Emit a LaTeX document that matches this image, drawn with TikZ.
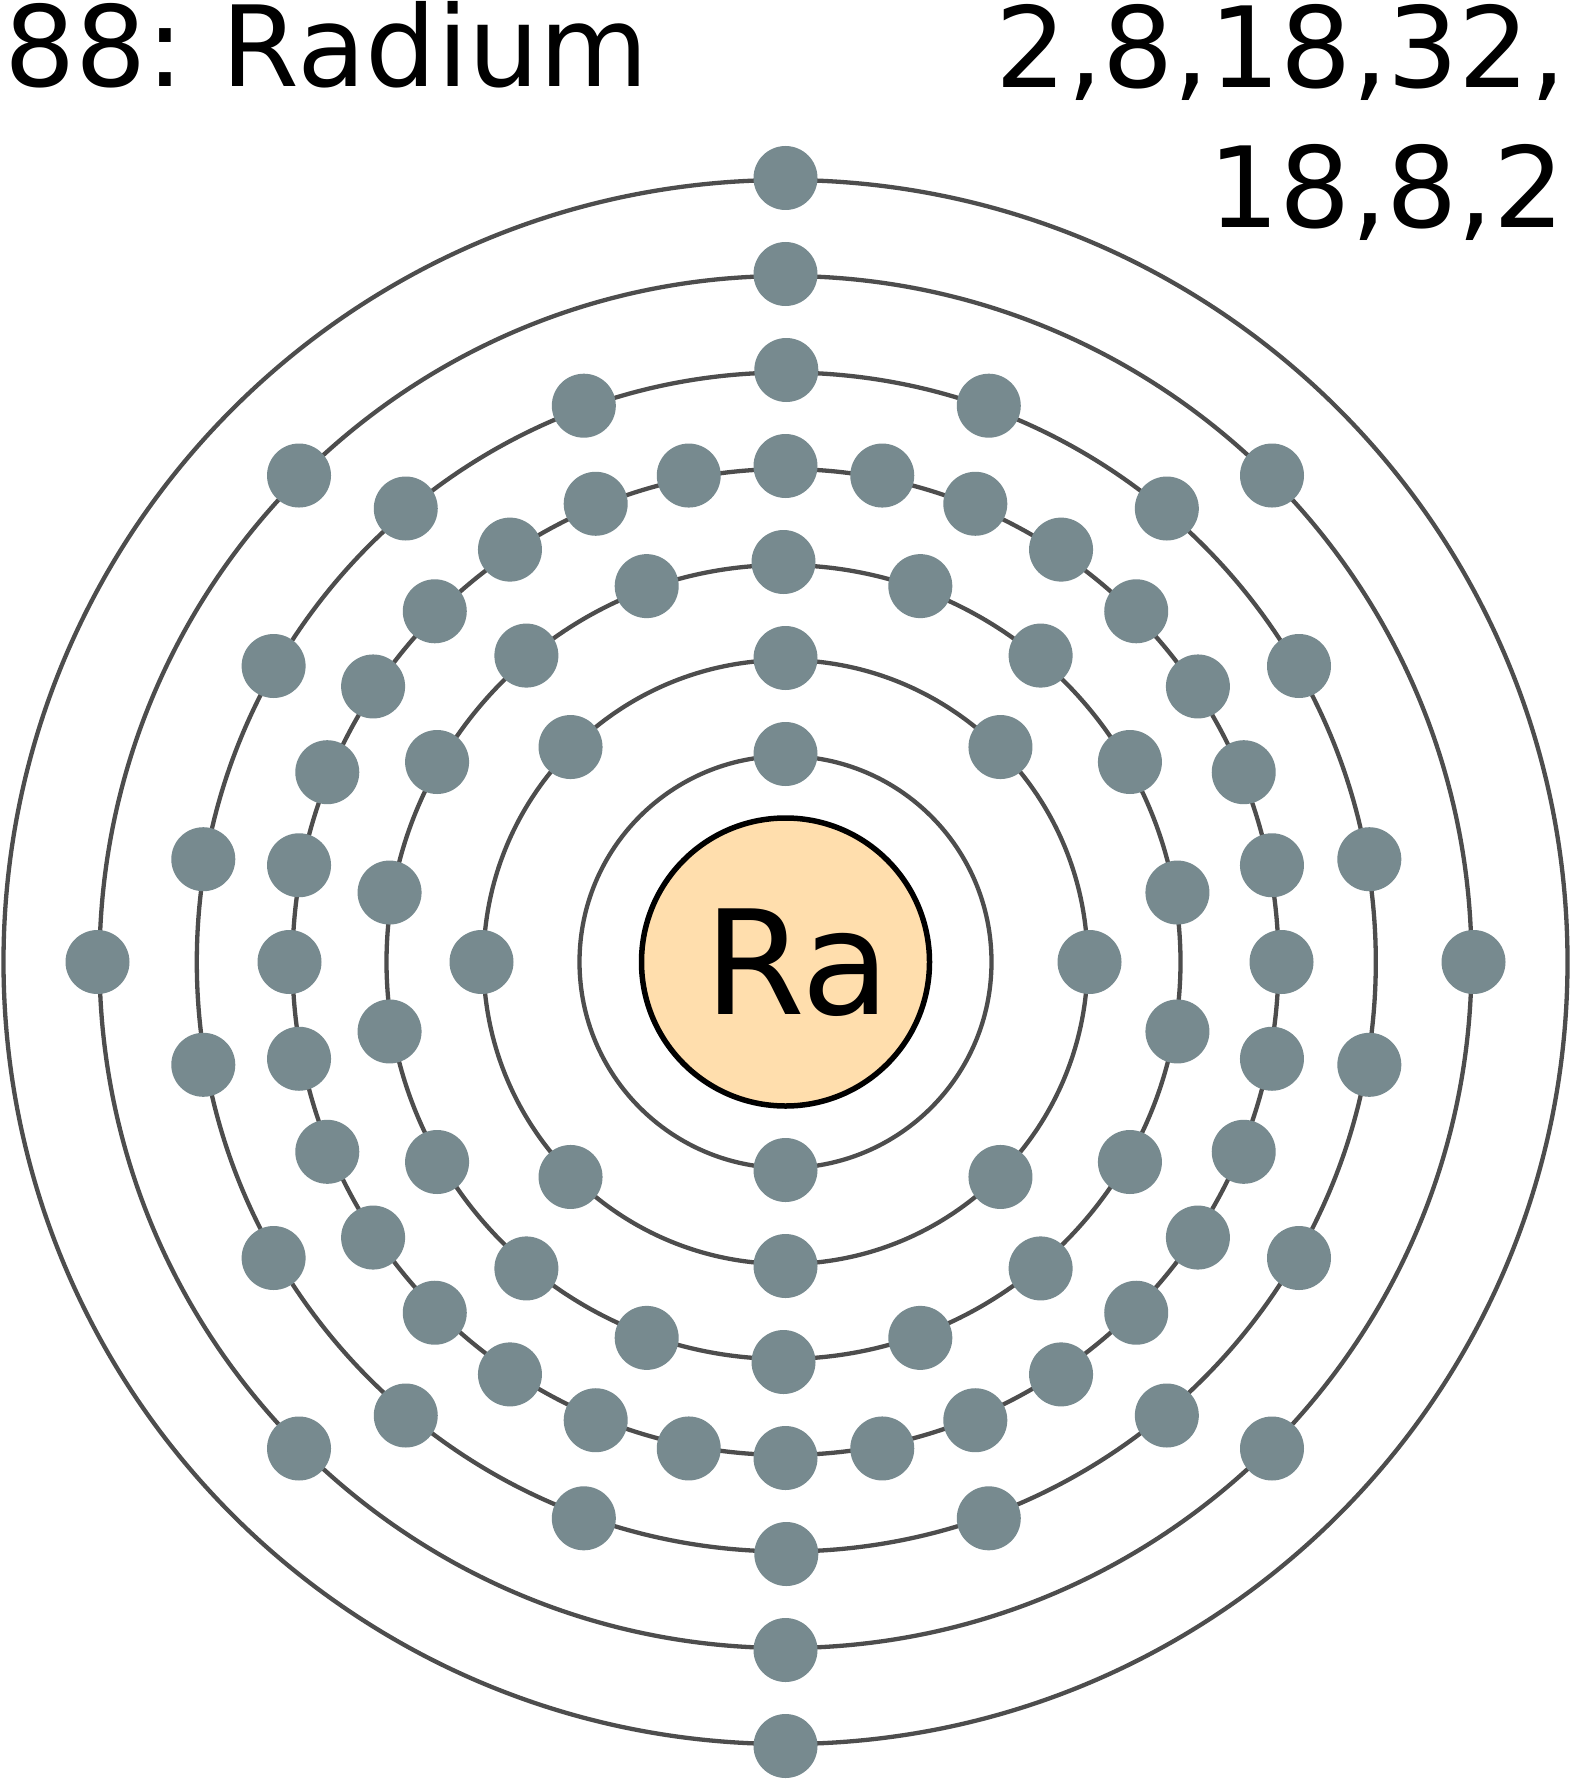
\documentclass[tikz,border=0pt]{standalone}
\usepackage{fontspec}
\usetikzlibrary{calc}
\setmainfont{DejaVu Sans}
\definecolor{electron}{HTML}{778A8F}
\definecolor{shell}{HTML}{4D4D4D}
\definecolor{nucleus}{HTML}{FFDEAD}
\tikzset{
  x=1pt,y=1pt,
  shellring/.style={draw=shell,line width=4.3pt},
  electrondot/.style={circle,fill=electron,minimum size=64pt,inner sep=0pt,draw=none},
  nucleusdisc/.style={circle,fill=nucleus,draw=black,line width=5.5pt,minimum size=288pt,inner sep=0pt},
  nucleuslabel/.style={inner sep=0pt,font=\fontsize{145}{145}\selectfont},
  titletext/.style={inner sep=0pt,font=\fontsize{112}{130}\selectfont}
}
\newcommand{\shellelectrons}[4]{%
  \foreach \i in {1,...,#2}{
    \node[electrondot] (e#3-\i) at ($(#4)+({#1*sin(360*\i/#2)},{-#1*cos(360*\i/#2)})$) {};
  }}
\begin{document}
\begin{tikzpicture}[yscale=-1]
\useasboundingbox (0,0) rectangle (1570,1779);
\fill[white] (0,0) rectangle (1570,1779);
\coordinate (c) at (785.5,962);
\coordinate (cthree) at (783.5,962);
\coordinate (cfive) at (786.3,962);
\foreach \r in {206,302,493,686,782}{
  \draw[shellring] (c) circle[radius=\r];
}
\draw[shellring] (cthree) circle[radius=397];
\draw[shellring] (cfive) circle[radius=589.5];
\shellelectrons{208}{2}{a}{c}
\shellelectrons{304}{8}{b}{c}
\shellelectrons{400}{18}{c}{cthree}
\shellelectrons{496}{32}{d}{c}
\shellelectrons{592}{18}{e}{cfive}
\shellelectrons{688}{8}{f}{c}
\shellelectrons{784}{2}{g}{c}
\node[nucleusdisc] (nuc) at (c) {};
\node[nucleuslabel,anchor=base west] (sym) at (704,1014) {Ra};
\node[titletext,anchor=base west] (title) at (4,87) {88:\hspace{-10pt} Radium};
\node[titletext,anchor=base east] (cfg1) at (1566,88) {2,8,18,32,};
\node[titletext,anchor=base east] (cfg2) at (1565,228) {18,8,2};
\end{tikzpicture}
\end{document}
